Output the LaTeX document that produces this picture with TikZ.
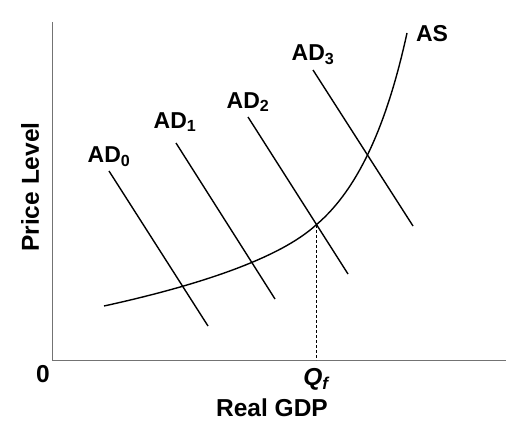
\documentclass[tikz,border=0pt]{standalone}
\usepackage{fontspec}
\setmainfont{Liberation Sans}
\begin{document}
\begin{tikzpicture}[x=1pt,y=-1pt,
  axis/.style={draw=black!55,line width=1pt},
  curve/.style={draw=black,line width=1.4pt},
  lab/.style={font=\bfseries\fontsize{23}{25}\selectfont,inner sep=0pt},
  axlab/.style={font=\bfseries\fontsize{24.5}{26}\selectfont,inner sep=0pt}]
\useasboundingbox (0,0) rectangle (526,438);
% axes
\coordinate (O) at (52,360);
\coordinate (ytop) at (52,22);
\coordinate (xend) at (506,360);
\draw[axis] (ytop) -- (O) -- (xend);
% AS curve
\coordinate (as0) at (104,306);
\coordinate (as1) at (407,33);
\coordinate (E) at (316,225);
\draw[curve] (as0) .. controls (200,285) and (280,258) .. (E)
  .. controls (360,188) and (388,120) .. (as1);
% AD lines
\coordinate (a0s) at (109,171); \coordinate (a0e) at (208,326);
\coordinate (a1s) at (176,143); \coordinate (a1e) at (275,299);
\coordinate (a2s) at (248,117); \coordinate (a2e) at (348,274);
\coordinate (a3s) at (313,70);  \coordinate (a3e) at (413,226);
\draw[curve] (a0s) -- (a0e);
\draw[curve] (a1s) -- (a1e);
\draw[curve] (a2s) -- (a2e);
\draw[curve] (a3s) -- (a3e);
% dashed
\coordinate (Qx) at (316,360);
\draw[line width=0.8pt,dash pattern=on 3pt off 2pt] (E) -- (Qx);
% labels
\node[lab] (l0) at (109,157) {AD\textsubscript{0}};
\node[lab] (l1) at (175,122) {AD\textsubscript{1}};
\node[lab] (l2) at (248,102) {AD\textsubscript{2}};
\node[lab] (l3) at (313,55) {AD\textsubscript{3}};
\node[lab] (las) at (432,34) {AS};
\node[axlab] (zero) at (43,374) {0};
\node[axlab] (qf) at (316,379) {\itshape Q\textsubscript{f}};
\node[axlab] (xl) at (272,408) {Real GDP};
\node[axlab,rotate=90] (yl) at (30,187) {Price Level};
\end{tikzpicture}
\end{document}
